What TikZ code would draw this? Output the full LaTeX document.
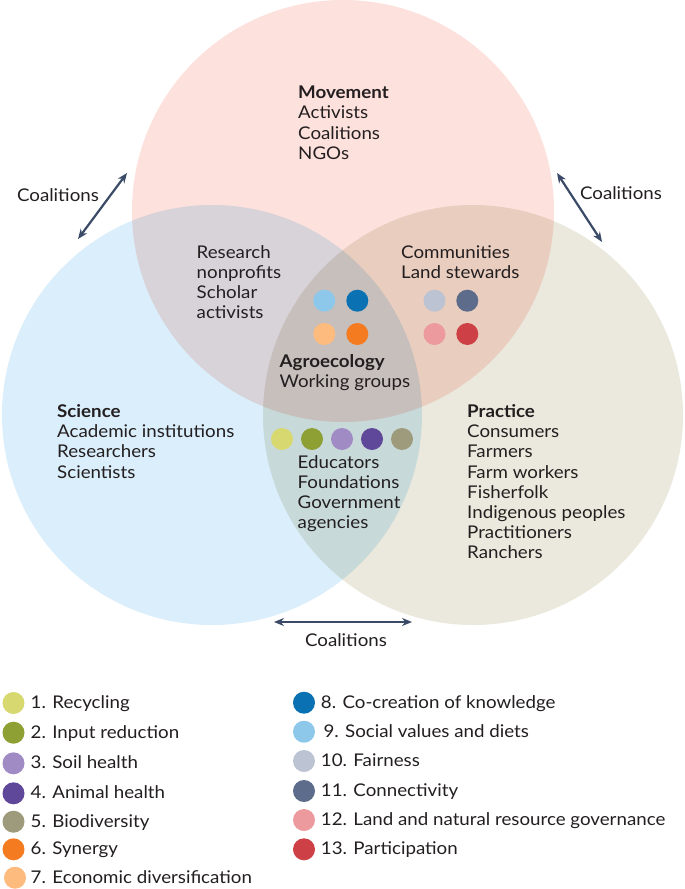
\documentclass[tikz,border=0pt]{standalone}
\usepackage{fontspec}
\setmainfont{Lato}[FakeStretch=1.07]
\usetikzlibrary{arrows.meta}
\definecolor{cpink}{HTML}{FDE1DD}
\definecolor{cblue}{HTML}{DAEEFB}
\definecolor{cbeige}{HTML}{EBE9DD}
\definecolor{arrowc}{HTML}{3B4A66}
\definecolor{txt}{HTML}{231F20}
\definecolor{d1}{HTML}{D7D86F}
\definecolor{d2}{HTML}{8E9F33}
\definecolor{d3}{HTML}{A08BC4}
\definecolor{d4}{HTML}{5F489A}
\definecolor{d5}{HTML}{9E9A7C}
\definecolor{d6}{HTML}{F47B20}
\definecolor{d7}{HTML}{FDBB7D}
\definecolor{d8}{HTML}{0A71B3}
\definecolor{d9}{HTML}{8DC8EB}
\definecolor{d10}{HTML}{BCC3D2}
\definecolor{d11}{HTML}{5C6C8A}
\definecolor{d12}{HTML}{EC9A9D}
\definecolor{d13}{HTML}{CD4146}
\begin{document}
\begin{tikzpicture}[x=1pt,y=-1pt,
  lbl/.style={anchor=base west,inner sep=0pt,text=txt,font=\fontsize{17.5}{21}\selectfont},
  ttl/.style={lbl,font=\fontsize{17.5}{21}\selectfont\bfseries},
  clbl/.style={lbl,anchor=base},
  dot/.style={circle,inner sep=0pt,minimum size=22pt,fill=#1},
  coal/.style={arrowc,line width=2.2pt,{Stealth[length=10pt,width=8pt]}-{Stealth[length=10pt,width=8pt]}},
  venn/.style={fill=#1,blend mode=multiply}]
\useasboundingbox[fill=white] (0,0) rectangle (685,889);
% circles
\begin{scope}[transparency group]
\fill[venn=cpink] (343,211) circle (211pt);
\fill[venn=cblue] (212,415) circle (210pt);
\fill[venn=cbeige] (473,415) circle (210pt);
\end{scope}
% arrows
\coordinate (al1) at (127,173); \coordinate (al2) at (78,239);
\coordinate (ar1) at (557,173); \coordinate (ar2) at (602,242);
\coordinate (ab1) at (274,622); \coordinate (ab2) at (412,622);
\draw[coal] (al1) -- (al2);
\draw[coal] (ar1) -- (ar2);
\draw[coal] (ab1) -- (ab2);
\node[clbl] (cl) at (58,201) {Coalitions};
\node[clbl] (cr) at (621,199.5) {Coalitions};
\node[clbl] (cb) at (346,646.5) {Coalitions};
% Movement
\node[ttl] (mov0) at (298,98.5) {Movement};
\foreach \t [count=\i] in {Activists,Coalitions,NGOs}
  \node[lbl] (mov\i) at (298,98.5+20.3*\i) {\t};
% Research
\foreach \t [count=\i from 0] in {Research,nonprofits,Scholar,activists}
  \node[lbl] (res\i) at (196.5,258+20.2*\i) {\t};
% Communities
\foreach \t [count=\i from 0] in {Communities,Land stewards}
  \node[lbl] (com\i) at (401,258+20.2*\i) {\t};
% Agroecology
\node[ttl] (agro) at (279.5,367) {Agroecology};
\node[lbl] (wg) at (279.5,387) {Working groups};
% Science
\node[ttl] (sci0) at (57,417.5) {Science};
\foreach \t [count=\i] in {Academic institutions,Researchers,Scientists}
  \node[lbl] (sci\i) at (57,417.5+20.2*\i) {\t};
% Practice
\node[ttl] (pra0) at (467,417.5) {Practice};
\foreach \t [count=\i] in {Consumers,Farmers,Farm workers,Fisherfolk,Indigenous peoples,Practitioners,Ranchers}
  \node[lbl] (pra\i) at (467,417.5+20.2*\i) {\t};
% Educators
\foreach \t [count=\i from 0] in {Educators,Foundations,Government,agencies}
  \node[lbl] (edu\i) at (297.5,468.3+20*\i) {\t};
% dots in diagram
\node[dot=d9] (m9) at (324.3,300.7) {};
\node[dot=d8] (m8) at (357.3,300.7) {};
\node[dot=d7] (m7) at (324.3,334) {};
\node[dot=d6] (m6) at (357.3,334) {};
\node[dot=d10] (m10) at (434.5,300.7) {};
\node[dot=d11] (m11) at (467.3,300.7) {};
\node[dot=d12] (m12) at (434.5,334) {};
\node[dot=d13] (m13) at (467.3,334) {};
\foreach \c [count=\i] in {d1,d2,d3,d4,d5}
  \node[dot=\c] (b\i) at (252+30*\i,439) {};
% legend left
\foreach \c/\y/\t [count=\i] in {d1/703/1. Recycling, d2/732.7/2. Input reduction, d3/763.3/3. Soil health, d4/793.3/4. Animal health, d5/821.7/5. Biodiversity, d6/849.3/6. Synergy}
{
  \node[dot=\c] (ld\i) at (13.5,\y) {};
  \node[lbl] (lt\i) at (30.5,\y+5.5) {\t};
}
\node[dot=d7] (ld7) at (15,877.7) {};
\node[lbl] (lt7) at (30.5,883.3) {7. Economic diversification};
% legend right
\foreach \c/\y/\x/\t [count=\i] in {d8/702.7/320.7/8. Co-creation of knowledge, d9/731.7/323.3/9. Social values and diets, d10/761/320.7/10. Fairness, d11/791/320.7/11. Connectivity, d12/820/320.7/12. Land and natural resource governance, d13/849.3/320.7/13. Participation}
{
  \node[dot=\c] (rd\i) at (304,\y) {};
  \node[lbl] (rt\i) at (\x,\y+5.6) {\t};
}
\end{tikzpicture}
\end{document}
